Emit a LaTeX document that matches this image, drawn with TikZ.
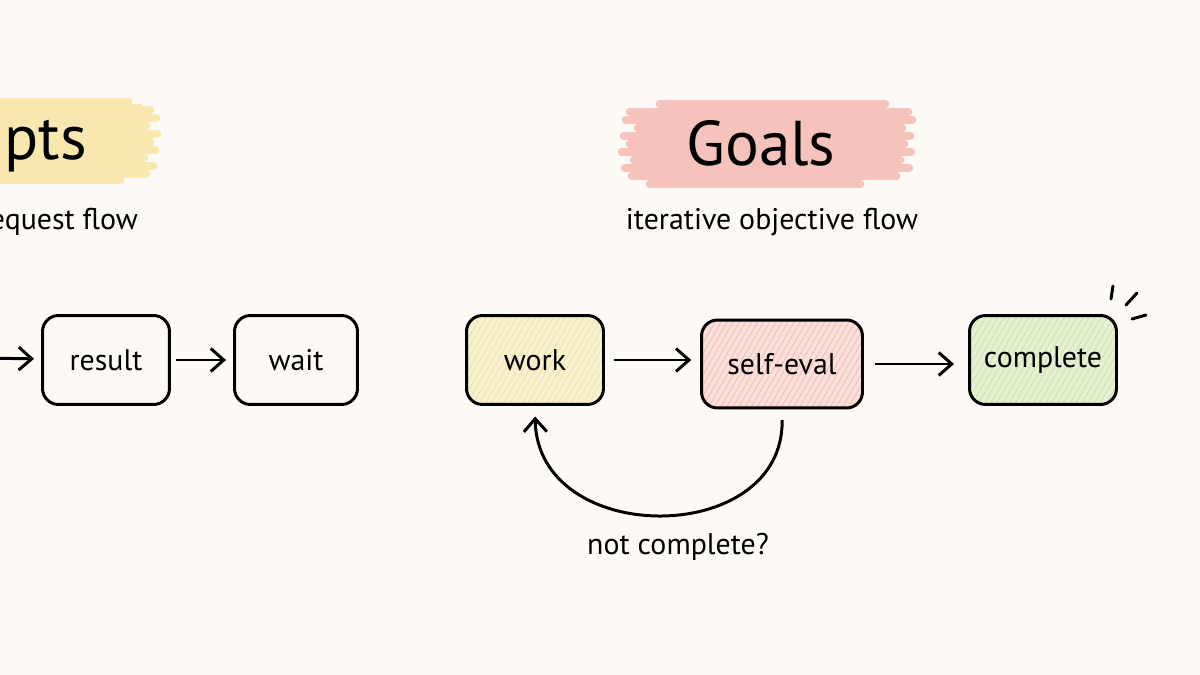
\documentclass[tikz,border=0pt]{standalone}
\usepackage{fontspec}
\setmainfont{PT Sans}
\usetikzlibrary{arrows.meta,positioning,patterns.meta}

\definecolor{paper}{HTML}{FDFAF6}
\definecolor{brushyellow}{HTML}{F8E8B0}
\definecolor{brushpink}{HTML}{F5C2BC}
\definecolor{workfill}{HTML}{F8F1D0}
\definecolor{workhatch}{HTML}{EFE0A0}
\definecolor{evalfill}{HTML}{FADFDB}
\definecolor{evalhatch}{HTML}{F0B8B0}
\definecolor{donefill}{HTML}{E6F1D2}
\definecolor{donehatch}{HTML}{C8E0A8}

\tikzset{
  stepbox/.style={rectangle, rounded corners=0.32cm, draw=black, line width=1.7pt,
    minimum height=1.78cm, font=\fontsize{17}{20}\selectfont, text=black},
  hatched/.style={preaction={fill=#1fill}, preaction={pattern={Lines[angle=60,distance=3pt,line width=0.4pt]}, pattern color=#1hatch}},
  flow/.style={line width=1.7pt, -{Straight Barb[length=2.6mm,width=4.6mm,line width=1.7pt]}},
  title/.style={font=\fontsize{36}{40}\selectfont},
  subtitle/.style={font=\fontsize{17}{20}\selectfont},
}

\begin{document}
\begin{tikzpicture}[x=0.02cm, y=-0.02cm]
  \useasboundingbox (0,0) rectangle (1200,675);
  \clip (0,0) rectangle (1200,675);
  \fill[paper] (0,0) rectangle (1200,675);

  % brush strokes behind the titles
  \fill[brushyellow] (-10,104) rectangle (142,178);
  \foreach \yy/\xb in {102/128, 110/150, 118/156, 126/146, 134/157, 142/150, 150/155, 158/144, 166/153, 174/146, 180/120}
    \draw[brushyellow, line width=5pt, line cap=round] (-10,\yy) -- (\xb,\yy);
  \fill[brushpink] (636,110) rectangle (898,180);
  \foreach \yy/\xa/\xb in {104/660/885, 112/630/908, 120/626/912, 128/638/902, 136/624/910, 144/630/904, 152/622/911, 160/634/900, 168/625/909, 176/632/896, 184/650/860}
    \draw[brushpink, line width=5pt, line cap=round] (\xa,\yy) -- (\xb,\yy);

  % titles
  \node[title, anchor=east] (prompts) at (93,143) {Prompts};
  \node[subtitle, anchor=east] (promptsub) at (144,222) {single request flow};
  \node[title] (goals) at (761,143) {Goals};
  \node[subtitle] (goalsub) at (772,222) {iterative objective flow};

  % prompt flow
  \node[stepbox, minimum width=2.54cm] (result) at (106,360) {result};
  \node[stepbox, minimum width=2.46cm] (wait) at (296,360) {wait};
  \coordinate (inlet) at (-20,358);

  % goal flow
  \node[stepbox, hatched=work, minimum width=2.74cm] (work) at (535,360) {work};
  \node[stepbox, hatched=eval, minimum width=3.22cm, minimum height=1.76cm] (selfeval) at (782,364) {self-eval};
  \node[stepbox, hatched=done, minimum width=2.94cm] (complete) at (1043,360) {complete};
  \node[subtitle] (again) at (678,547) {not complete?};

  \draw[flow, shorten >=4pt] (inlet) -- (result);
  \draw[flow, shorten <=3pt, shorten >=4pt] (result) -- (wait);
  \draw[flow, shorten <=5pt, shorten >=5pt] (work) -- (work -| selfeval.west);
  \draw[flow, shorten <=6pt, shorten >=8pt] (selfeval) -- (selfeval -| complete.west);
  \draw[flow, shorten <=6pt, shorten >=6pt] (selfeval.south) .. controls (784,548) and (537,548) .. (work.south);

  % little sparks
  \draw[line width=1.7pt, line cap=round] ([shift={(-5,-28)}]complete.north east) -- ++(-2,13);
  \draw[line width=1.7pt, line cap=round] ([shift={(8,-9)}]complete.north east) -- ++(11,-12);
  \draw[line width=1.7pt, line cap=round] ([shift={(14,5)}]complete.north east) -- ++(14,-4);
\end{tikzpicture}
\end{document}
